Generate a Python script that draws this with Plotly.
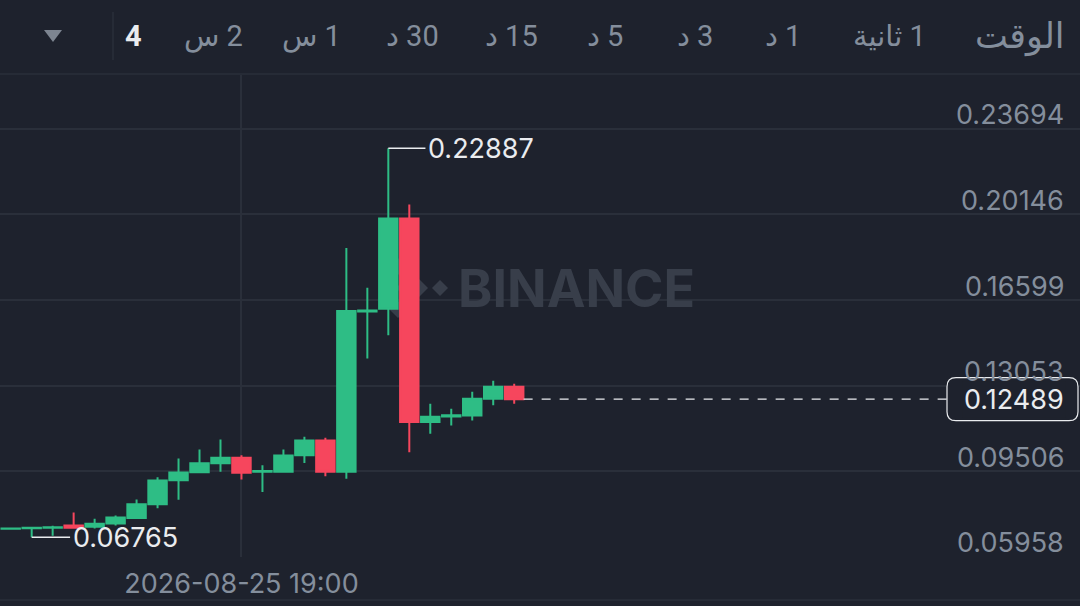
import plotly.graph_objects as go
import pandas as pd

# ---------------- data ----------------
start_time = "2026-08-23 23:00"
interval_hours = 4
opens  = [0.0712, 0.0714, 0.0716, 0.0726, 0.0720, 0.0734, 0.0757, 0.0814, 0.0913, 0.0946,
          0.0984, 0.1006, 0.0948, 0.0948, 0.1017, 0.1078, 0.0948, 0.1612, 0.1624, 0.1998,
          0.1154, 0.1177, 0.1181, 0.1251, 0.1300]
highs  = [0.0716, 0.0719, 0.0724, 0.0779, 0.0754, 0.0767, 0.0833, 0.0926, 0.1003, 0.1040,
          0.1082, 0.1017, 0.0975, 0.1040, 0.1093, 0.1089, 0.1876, 0.1711, 0.22887, 0.2056,
          0.1230, 0.1209, 0.1280, 0.1325, 0.1313]
lows   = [0.0709, 0.06765, 0.0683, 0.0714, 0.0713, 0.0726, 0.0753, 0.0797, 0.0832, 0.0942,
          0.0948, 0.0916, 0.0864, 0.0947, 0.0985, 0.0930, 0.0919, 0.1418, 0.1514, 0.1029,
          0.1106, 0.1140, 0.1161, 0.1224, 0.1230]
closes = [0.0713, 0.0716, 0.0718, 0.0716, 0.0733, 0.0759, 0.0814, 0.0912, 0.0945, 0.0983,
          0.1006, 0.0944, 0.0951, 0.1016, 0.1078, 0.0948, 0.1614, 0.1616, 0.1998, 0.1154,
          0.1176, 0.1182, 0.1251, 0.1300, 0.12489]

price_ticks = [0.05958, 0.09506, 0.13053, 0.16599, 0.20146, 0.23694]
time_tick = "2026-08-25 19:00"
last_price = 0.12489
max_price = 0.22887
min_price = 0.06765

tabs = ["الوقت", "\u200f1 ثانية", "\u200f1 د", "\u200f3 د", "\u200f5 د", "\u200f15 د",
        "\u200f30 د", "\u200f1 س", "\u200f2 س"]
active_tab = "4"

# ---------------- styling / layout ----------------
BG = "#1e222d"
GRID = "#2a2f3a"
TXT = "#848e9c"
WHITE = "#eaecef"
GREEN = "#2ebd85"
RED = "#f6465d"
WM = "#383e4a"
FONT = "Inter, Roboto, sans-serif"
TAB_FONT = "Roboto, DejaVu Sans, sans-serif"
tab_x = [1020, 889, 783, 695, 605, 511, 412, 312, 213]

W, H = 1080, 606
M_T, M_B = 75, 49
PH = H - M_T - M_B

step = pd.Timedelta(hours=interval_hours)
t0 = pd.Timestamp(start_time)
times = [t0 + i * step for i in range(len(opens))]

def px(x):
    return x / W

def py(y):
    return (H - M_B - y) / PH

# axis ranges (layout)
x_lo_idx, x_hi_idx = -0.51, 50.97
x_range = [t0 + x_lo_idx * step, t0 + x_hi_idx * step]
y_lo = 0.0595
y_per_px = 0.0004144
y_range = [y_lo, y_lo + PH * y_per_px]

fig = go.Figure()
fig.add_trace(go.Candlestick(
    x=times, open=opens, high=highs, low=lows, close=closes,
    increasing=dict(line=dict(color=GREEN, width=2), fillcolor=GREEN),
    decreasing=dict(line=dict(color=RED, width=2), fillcolor=RED),
    whiskerwidth=0, hoverinfo="skip", showlegend=False,
))

shapes = []
annotations = []

# top bar separators
shapes.append(dict(type="line", xref="paper", yref="paper", x0=0, x1=1, y0=py(74), y1=py(74),
                   line=dict(color=GRID, width=1.5)))
shapes.append(dict(type="line", xref="paper", yref="paper", x0=0, x1=1, y0=py(600), y1=py(600),
                   line=dict(color=GRID, width=1.5)))
shapes.append(dict(type="line", xref="paper", yref="paper", x0=px(113), x1=px(113), y0=py(12), y1=py(60),
                   line=dict(color=GRID, width=1.5)))
# dropdown triangle
shapes.append(dict(type="path", xref="paper", yref="paper",
                   path=f"M {px(44)} {py(30)} L {px(62)} {py(30)} L {px(53)} {py(42)} Z",
                   fillcolor="#7d8591", line=dict(width=0)))

for k, (label, xc) in enumerate(zip(tabs, tab_x)):
    annotations.append(dict(text=label, x=px(xc), y=py(36), xref="paper", yref="paper",
                            showarrow=False, xanchor="center", yanchor="middle",
                            font=dict(family=TAB_FONT, size=35 if k == 0 else 29, color=TXT)))
annotations.append(dict(text=f"<b>{active_tab}</b>", x=px(133), y=py(36), xref="paper", yref="paper",
                        showarrow=False, xanchor="center", yanchor="middle",
                        font=dict(family="Roboto, sans-serif", size=29, color=WHITE)))

# watermark (logo partly hidden behind the candles)
shapes.append(dict(type="path", xref="paper", yref="paper", layer="below",
                   path=(f"M {px(398)} {py(258)} L {px(428)} {py(288)} L {px(398)} {py(318)} "
                         f"L {px(390)} {py(310)} L {px(412)} {py(288)} L {px(390)} {py(266)} Z"),
                   fillcolor=WM, line=dict(width=0)))
for (dx, s) in [(440, 8), (404, 8)]:
    shapes.append(dict(type="path", xref="paper", yref="paper", layer="below",
                       path=(f"M {px(dx)} {py(288-s)} L {px(dx+s)} {py(288)} L {px(dx)} {py(288+s)} "
                             f"L {px(dx-s)} {py(288)} Z"),
                       fillcolor=WM, line=dict(width=0)))
annotations.append(dict(text="<b>BINANCE</b>", x=px(576), y=py(288), xref="paper", yref="paper",
                        showarrow=False, xanchor="center", yanchor="middle",
                        font=dict(family=FONT, size=52, color=WM)))

# price-axis labels (drawn above their grid lines, inside the plot)
for v in price_ticks:
    annotations.append(dict(text=f"{v:.5f}", x=px(1066), y=v, xref="paper", yref="y",
                            showarrow=False, xanchor="right", yanchor="middle", yshift=14,
                            font=dict(family=FONT, size=27, color=TXT)))

# max / min markers
i_max = highs.index(max_price)
i_min = lows.index(min_price)
shapes.append(dict(type="line", xref="x", yref="y", x0=times[i_max], x1=times[i_max] + 1.77 * step,
                   y0=max_price, y1=max_price, line=dict(color=WHITE, width=1.5)))
annotations.append(dict(text=f"{max_price:.5f}", x=times[i_max] + 1.8 * step, y=max_price,
                        xref="x", yref="y", showarrow=False, xanchor="left", yanchor="middle",
                        font=dict(family=FONT, size=27, color=WHITE)))
shapes.append(dict(type="line", xref="x", yref="y", x0=times[i_min], x1=times[i_min] + 1.83 * step,
                   y0=min_price, y1=min_price, line=dict(color=WHITE, width=1.5)))
annotations.append(dict(text=f"{min_price:.5f}", x=times[i_min] + 1.86 * step, y=min_price,
                        xref="x", yref="y", showarrow=False, xanchor="left", yanchor="middle",
                        font=dict(family=FONT, size=27, color=WHITE)))

# last price dashed line + box
x_box_left = x_range[0] + (947 / W) * (x_range[1] - x_range[0])
shapes.append(dict(type="line", xref="x", yref="y", x0=times[-1] + 0.45 * step, x1=x_box_left,
                   y0=last_price, y1=last_price, line=dict(color=WHITE, width=1.2, dash="dash")))
hh = 21.5 * y_per_px
rr = 9
rx = rr / W
ry = rr * y_per_px
xl, xr = px(947), px(1078)
yt, yb = last_price + hh, last_price - hh
box_path = (f"M {xl+rx} {yt} L {xr-rx} {yt} Q {xr} {yt} {xr} {yt-ry} L {xr} {yb+ry} "
            f"Q {xr} {yb} {xr-rx} {yb} L {xl+rx} {yb} Q {xl} {yb} {xl} {yb+ry} "
            f"L {xl} {yt-ry} Q {xl} {yt} {xl+rx} {yt} Z")
annotations.append(dict(text=f"{last_price:.5f}", x=px(1066), y=last_price, xref="paper", yref="y",
                        showarrow=False, xanchor="right", yanchor="middle", bgcolor=BG,
                        font=dict(family=FONT, size=27, color=WHITE)))

fig.update_layout(
    width=W, height=H,
    margin=dict(l=0, r=0, t=M_T, b=M_B),
    paper_bgcolor=BG, plot_bgcolor=BG,
    boxgap=0.12, boxgroupgap=0.0,
    shapes=shapes, annotations=annotations,
    xaxis=dict(
        type="date", range=x_range, rangeslider=dict(visible=False),
        tickvals=[pd.Timestamp(time_tick)], ticktext=[time_tick],
        showgrid=True, gridcolor=GRID, gridwidth=1.5, zeroline=False, showline=False,
        ticks="", ticklabelstandoff=8,
        tickfont=dict(family=FONT, size=27, color=TXT), fixedrange=True,
    ),
    yaxis=dict(
        side="right", range=y_range, tickvals=price_ticks, showticklabels=False,
        showgrid=True, gridcolor=GRID, gridwidth=1.5, zeroline=False, showline=False,
        ticks="", fixedrange=True,
    ),
)

# rounded box for the last price
fig.add_shape(type="path", xref="paper", yref="y", path=box_path, layer="above",
              fillcolor=BG, line=dict(color=WHITE, width=1.2))

fig.write_html("out.html", post_script="document.body.style.margin='0';",
               config={"displayModeBar": False})
